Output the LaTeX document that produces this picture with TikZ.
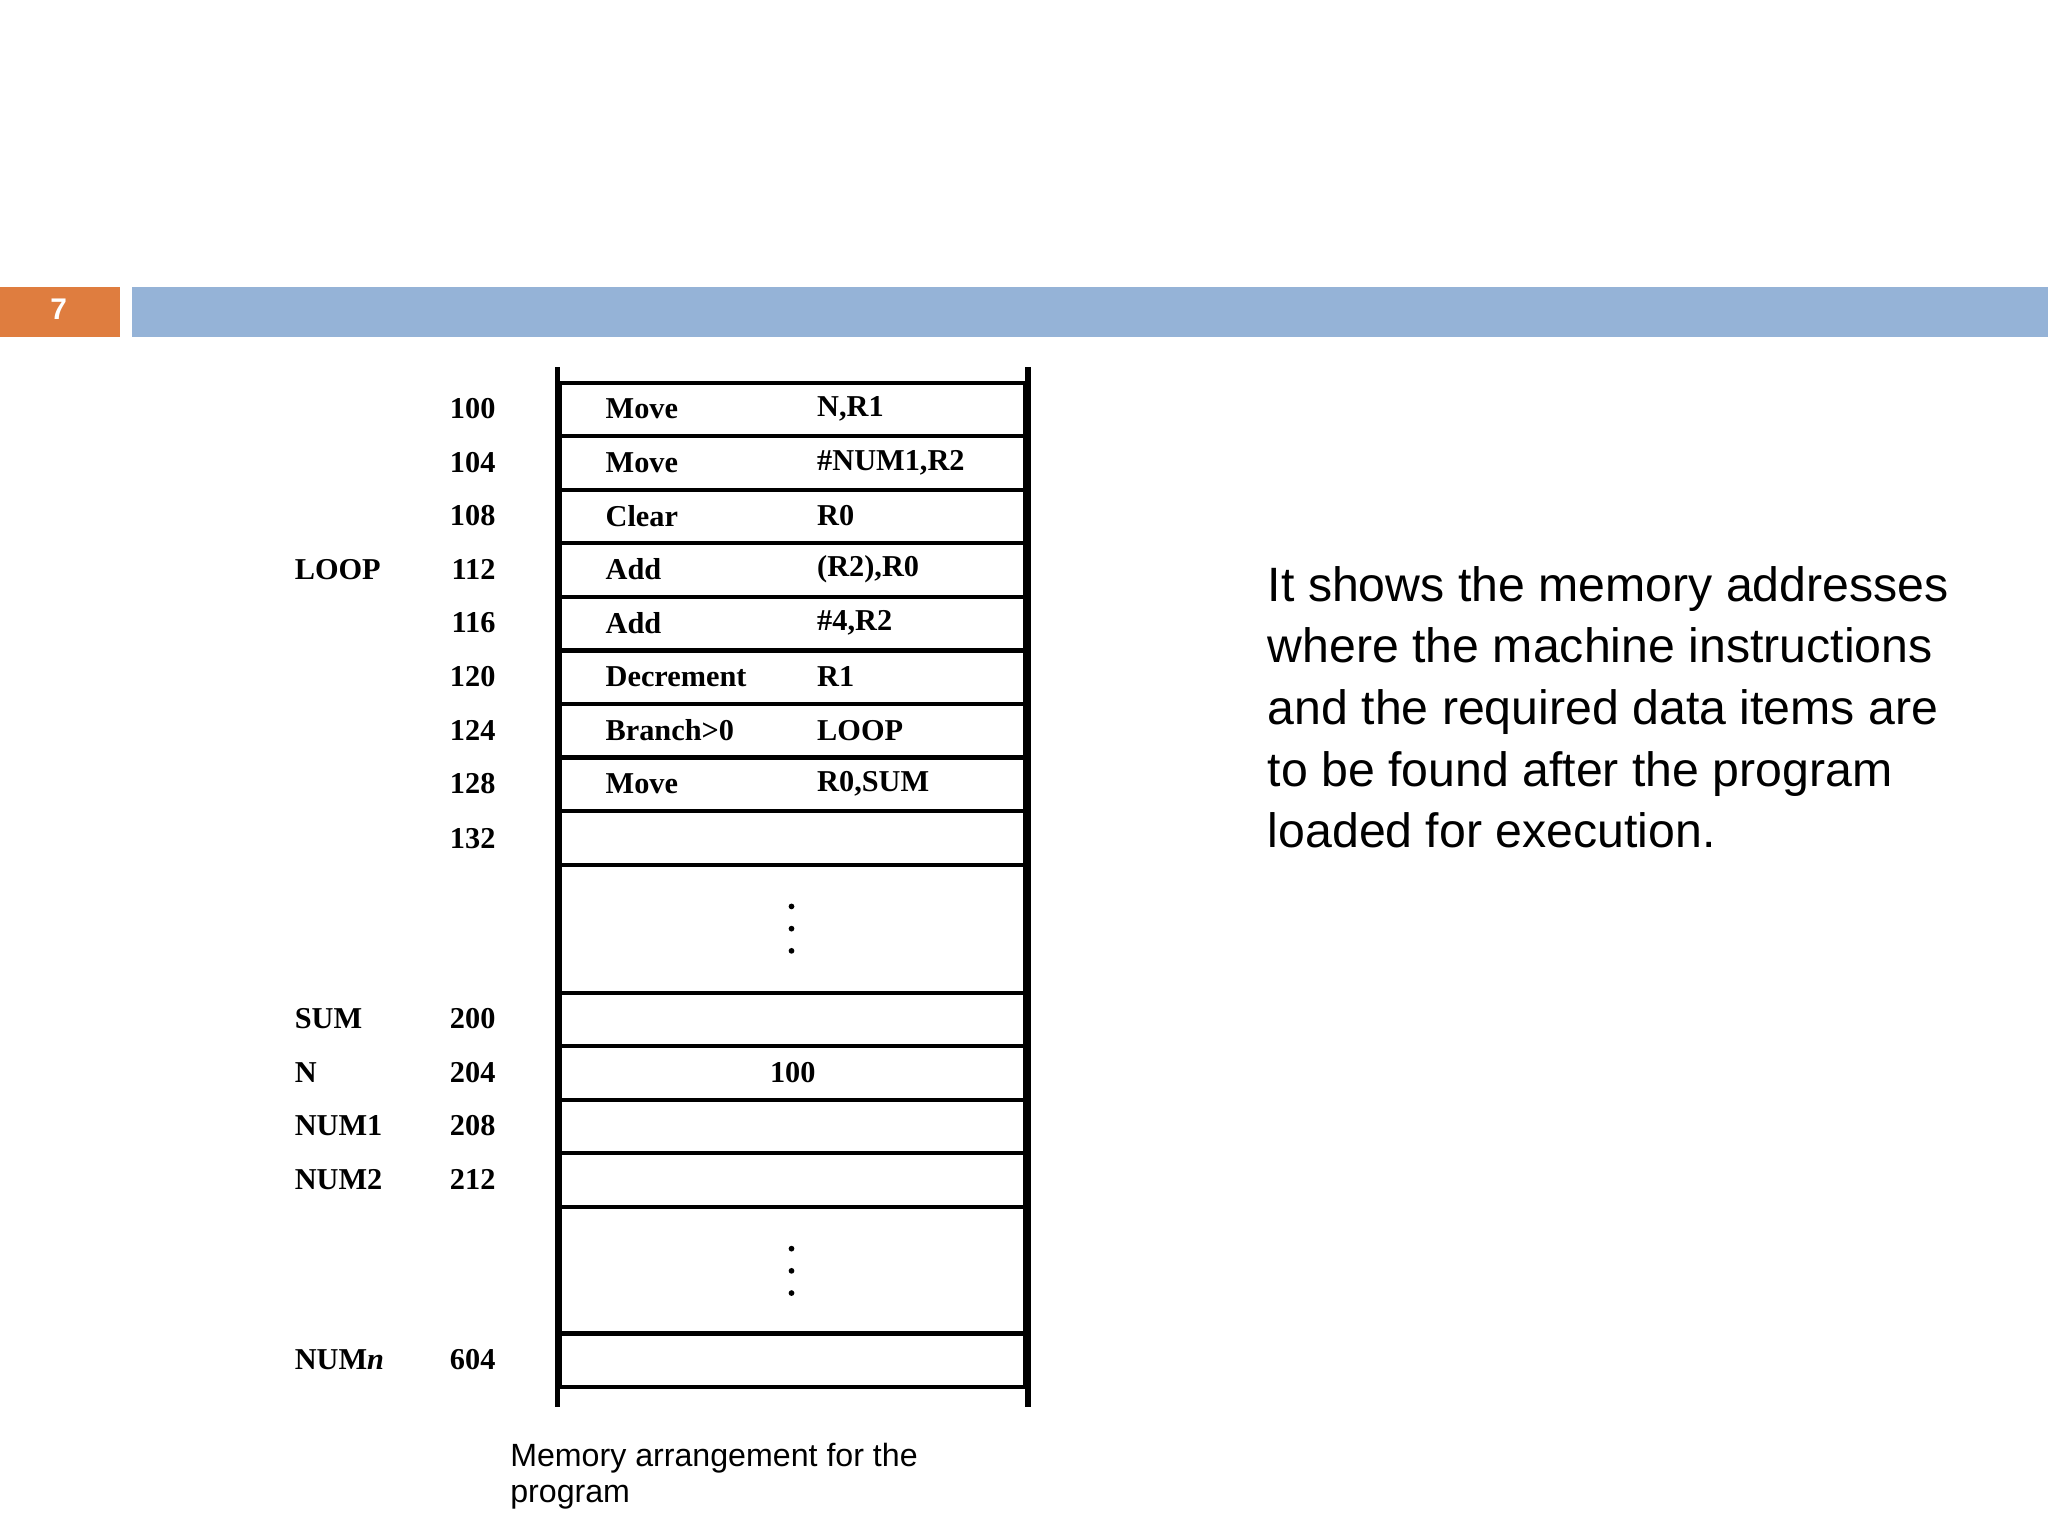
\documentclass[tikz,border=0pt]{standalone}
\usepackage{fontspec}
\setmainfont{Liberation Serif}
\setsansfont{Liberation Sans}
\definecolor{barblue}{HTML}{95B3D7}
\definecolor{barorange}{HTML}{DF7D3F}
\begin{document}
\begin{tikzpicture}[x=0.01cm,y=-0.01cm,
  tt/.style={font=\fontsize{6.6pt}{8pt}\selectfont\bfseries,inner sep=0pt},
  box/.style={draw,line width=0.9pt}]
\useasboundingbox (0,0) rectangle (1568,1176);
\fill[fill=white] (0,0) rectangle (1568,1176);
\fill[barorange] (0,220) rectangle (92,258);
\fill[barblue] (101,220) rectangle (1568,258);
\node[text=white,font=\sffamily\bfseries\fontsize{6.5pt}{8pt}\selectfont] (pg) at (45,237) {7};
% table verticals
\draw[line width=1.2pt] (427,281) -- (427,1077);
\draw[line width=1.2pt] (787,281) -- (787,1077);
% rows
\foreach \t in {293,334,375,416,457,498,539,580,621}{
  \draw[box] (429,\t) rectangle (785,\t+41);
}
\draw[box] (429,662) rectangle (785,760);
\foreach \t in {760,801,842,883}{\draw[box] (429,\t) rectangle (785,\t+41);}
\draw[box] (429,924) rectangle (785,1021);
\draw[box] (429,1021) rectangle (785,1062);
% dots
\foreach \y in {694,711,728,956,973,990}{\fill (606,\y) circle (2.2);}
% addresses
\foreach \a/\y in {100/313,104/354,108/395,112/436,116/477,120/518,124/559,128/600,132/642,200/780,204/821,208/862,212/903,604/1041}{
  \node[tt,anchor=east] (ad\a) at (380,\y) {\a};
}
% labels
\foreach \l/\y in {LOOP/436,SUM/780,N/821,NUM1/862,NUM2/903}{
  \node[tt,anchor=west] (lb\l) at (225,\y) {\l};
}
\node[tt,anchor=west] (lbn) at (225,1041) {NUM\textit{n}};
% instructions
\foreach \o/\r/\y [count=\i] in {Move/{N,R1}/313,Move/{\#NUM1,R2}/354,Clear/R0/395,Add/{(R2),R0}/436,Add/{\#4,R2}/477,Decrement/R1/518,Branch>0/LOOP/559,Move/{R0,SUM}/600}{
  \node[tt,anchor=west] (op\i) at (463,\y) {\o};
  \node[tt,anchor=west] (rg\i) at (625,\y) {\r};
}
\node[tt] (v100) at (607,821) {100};
\node[anchor=north west,align=left,inner sep=0pt,font=\sffamily\fontsize{7pt}{8pt}\selectfont] (cap) at (390,1104) {Memory arrangement for the\\program};
\node[anchor=north west,align=left,inner sep=0pt,font=\sffamily\fontsize{10.5pt}{13.4pt}\selectfont] (txt) at (970,433) {It shows the memory addresses\\where the machine instructions\\and the required data items are\\to be found after the program\\loaded for execution.};
\end{tikzpicture}
\end{document}
